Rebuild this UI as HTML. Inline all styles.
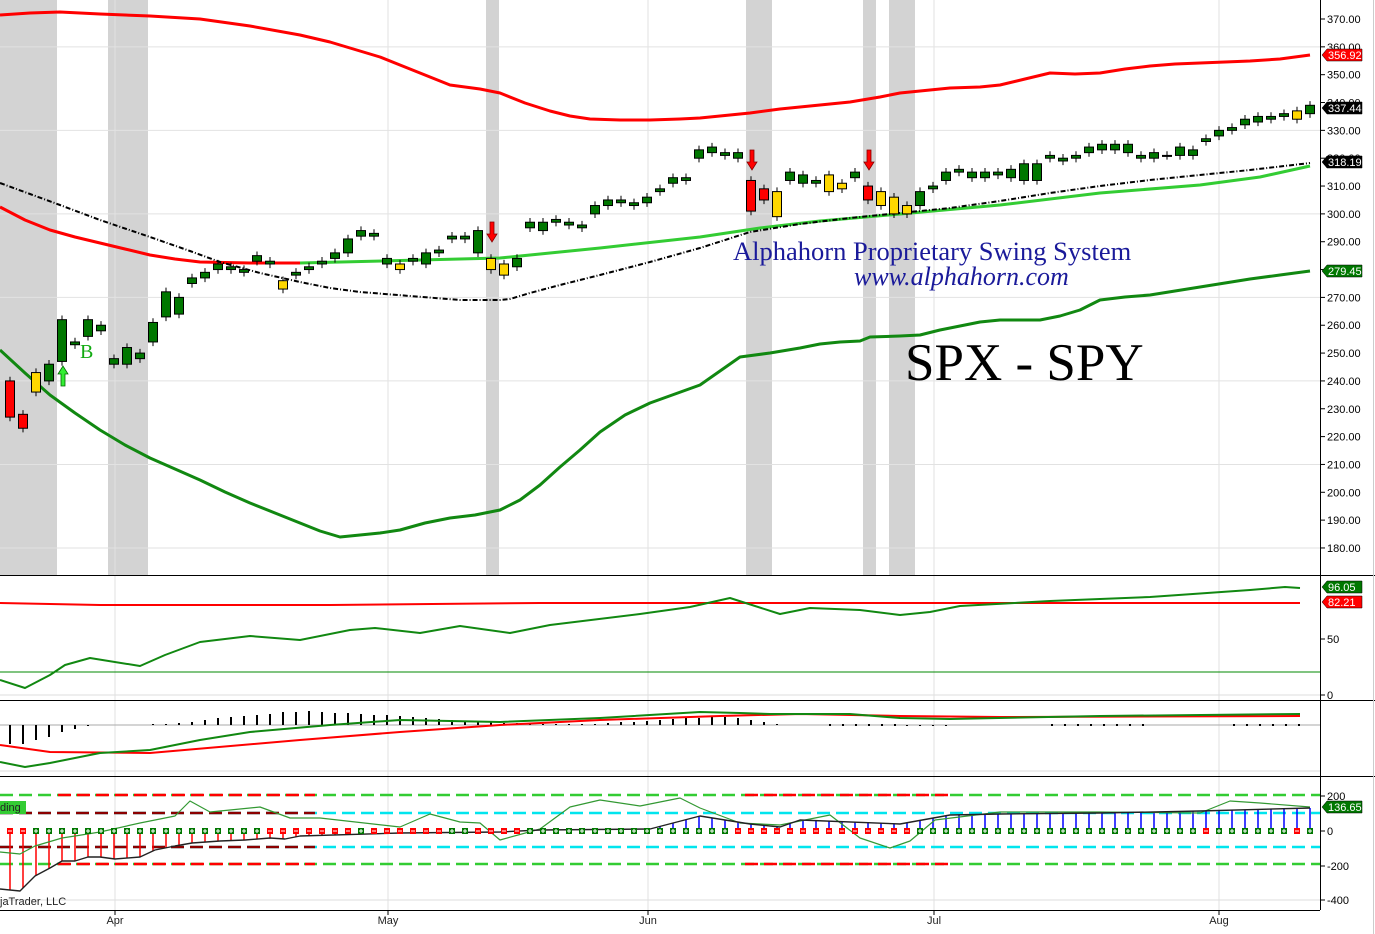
<!DOCTYPE html>
<html><head><meta charset="utf-8"><style>
html,body{margin:0;padding:0;background:#fff;}
svg{display:block;font-family:"Liberation Sans",sans-serif;}
polyline{stroke-linejoin:round;}
</style></head><body>
<svg id="c" width="1375" height="934" viewBox="0 0 1375 934" xmlns="http://www.w3.org/2000/svg"></svg>
<script>
const S=document.getElementById('c');let h='';
const Y=p=>19+(370-p)*2.784;
const X=i=>10+13*i;
function pl(pts,st,w,extra){return `<polyline fill="none" stroke="${st}" stroke-width="${w}" ${extra||''} points="${pts.map(p=>p.join(',')).join(' ')}"/>`;}
function pairs(a){let r=[];for(let i=0;i<a.length;i+=2)r.push([a[i],a[i+1]]);return r;}
[[0,57],[108,148],[486,499],[746,772],[863,876],[889,915]].forEach(b=>h+=`<rect x="${b[0]}" y="0" width="${b[1]-b[0]}" height="575" fill="#d3d3d3"/>`);
[360,330,300,270,240,210,180].forEach(p=>h+=`<line x1="0" x2="1320" y1="${Y(p)}" y2="${Y(p)}" stroke="#e2e2e2"/>`);
[115,388,648,934,1219].forEach(x=>h+=`<line x1="${x}" x2="${x}" y1="0" y2="910" stroke="#e2e2e2"/>`);
h+=pl(pairs([0,15,30,13,60,12,100,14,150,16,200,19,250,26,300,35,330,42,350,48,380,57,400,65,430,77,450,85,480,89,500,93,525,103,550,111,570,116,590,119,620,120,650,120,680,119,700,118,730,115,750,113,780,109,800,107,830,104,850,102,880,97,900,93,930,90,950,88,980,87,1000,85,1025,79,1050,73,1075,74,1100,73,1125,69,1150,66,1175,64,1200,63,1250,61,1280,59,1310,55]),'#ff0000',3);
h+=pl(pairs([0,207,25,220,50,230,75,237,100,243,125,249,150,255,175,259,200,262,250,263,300,263]),'#ff0000',3);
h+=pl(pairs([300,263,420,260,500,258,600,248,700,237,760,228,820,221,900,214,1000,205,1100,193,1200,185,1260,177,1310,166]),'#33cc33',3);
h+=pl(pairs([0,183,30,194,60,205,100,220,150,237,190,251,220,262,260,273,300,282,330,288,360,292,410,296,460,300,500,300,510,299,530,293,560,285,600,275,650,262,700,248,750,232,800,224,850,218,900,213,950,208,1000,201,1050,193,1100,186,1150,180,1200,175,1250,170,1310,163]),'#000',2,'style="stroke-linecap:butt" stroke-dasharray="5,2,1,2"');
h+=pl(pairs([0,350,25,373,50,395,75,413,100,430,125,445,150,458,175,469,200,480,225,492,250,503,275,513,300,523,320,531,340,537,360,535,380,533,400,530,425,523,450,518,475,515,500,510,520,500,540,485,560,467,580,450,600,432,625,415,650,403,675,394,700,385,720,371,740,357,770,353,800,348,820,344,840,342,860,341,870,337,900,336,920,335,940,330,960,326,980,322,1000,320,1040,320,1060,316,1080,310,1100,300,1125,297,1150,295,1175,291,1200,287,1225,283,1250,279,1280,275,1310,271]),'#118811',3);
const C=[[240,227,'r'],[228,223,'r'],[236,243,'y'],[240,246,'g'],[247,262,'g'],[253,254,'g'],[256,262,'g'],[258,260,'g'],[246,248,'g'],[246,252,'g'],[248,250,'g'],[254,261,'g'],[263,272,'g'],[264,270,'g'],[275,277,'g'],[277,279,'g'],[280,282,'g'],[280,281,'g'],[279,280,'g'],[283,285,'g'],[282,283,'g'],[276,273,'y'],[278,279,'g'],[280,281,'g'],[282,283,'g'],[284,286,'g'],[286,291,'g'],[292,294,'g'],[292,293,'g'],[284,282,'g'],[282,280,'y'],[283,284,'g'],[282,286,'g'],[286,287,'g'],[291,292,'g'],[291,292,'g'],[286,294,'g'],[284,280,'y'],[282,278,'y'],[281,284,'g'],[295,297,'g'],[294,297,'g'],[297,298,'g'],[296,297,'g'],[295,296,'g'],[300,303,'g'],[303,305,'g'],[304,305,'g'],[303,304,'g'],[304,306,'g'],[308,309,'g'],[311,313,'g'],[312,313,'g'],[320,323,'g'],[322,324,'g'],[321,322,'g'],[320,322,'g'],[312,301,'r'],[309,305,'r'],[308,299,'y'],[312,315,'g'],[311,314,'g'],[311,312,'g'],[314,308,'y'],[311,309,'y'],[313,315,'g'],[310,305,'r'],[308,303,'y'],[306,300,'y'],[303,300,'y'],[303,308,'g'],[309,310,'g'],[312,315,'g'],[315,316,'g'],[313,315,'g'],[313,315,'g'],[314,315,'g'],[313,316,'g'],[312,318,'g'],[312,318,'g'],[320,321,'g'],[319,320,'g'],[320,321,'g'],[322,324,'g'],[323,325,'g'],[323,325,'g'],[325,322,'g'],[320,321,'g'],[320,322,'g'],[321,321,'g'],[321,324,'g'],[321,323,'g'],[326,327,'g'],[328,330,'g'],[330,331,'g'],[332,334,'g'],[333,335,'g'],[334,335,'g'],[335,336,'g'],[337,334,'y'],[336,339,'g']];
const col={r:'#ff0000',g:'#007700',y:'#ffd700'};
C.forEach((c,i)=>{const x=X(i),t=Math.max(c[0],c[1]),b=Math.min(c[0],c[1]);
h+=`<line x1="${x}" x2="${x}" y1="${Y(t+1.5)}" y2="${Y(b-1.5)}" stroke="#000"/>`;
h+=`<rect x="${x-4.5}" y="${Y(t)}" width="9" height="${Math.max(1,Y(b)-Y(t))}" fill="${col[c[2]]}" stroke="#000" stroke-width="1"/>`;});
function dn(x,y){h+=`<polygon points="${x-2},${y} ${x+2},${y} ${x+2},${y+12} ${x+5},${y+12} ${x},${y+20} ${x-5},${y+12} ${x-2},${y+12}" fill="#ff0000" stroke="#800" stroke-width="0.8"/>`;}
dn(492,222);dn(752,150);dn(869,150);
h+=`<polygon points="61,386 65,386 65,374 68,374 63,366 58,374 61,374" fill="#33ee33" stroke="#060" stroke-width="0.8"/>`;
h+=`<text x="80" y="358" font-family="Liberation Serif,serif" font-size="20" fill="#11aa11">B</text>`;
h+=`<text x="733" y="260" font-family="Liberation Serif,serif" font-size="26.5" fill="#1a1a9a">Alphahorn Proprietary Swing System</text>`;
h+=`<text x="854" y="285" font-family="Liberation Serif,serif" font-style="italic" font-size="26" fill="#1a1a9a">www.alphahorn.com</text>`;
h+=`<text x="905" y="380" font-family="Liberation Serif,serif" font-size="53" fill="#000">SPX - SPY</text>`;
h+=`<line x1="0" x2="1320" y1="695" y2="695" stroke="#ddd"/>`;
h+=`<line x1="0" x2="1320" y1="672" y2="672" stroke="#008800"/>`;
h+=pl(pairs([0,603,100,605,330,605,540,603,1300,603]),'#ff0000',2);
h+=pl(pairs([0,680,25,688,50,675,65,665,90,658,140,666,165,655,200,642,250,636,300,640,350,630,375,628,420,633,460,626,510,633,550,625,640,614,690,607,730,598,780,614,810,608,860,610,900,615,930,612,960,606,1050,601,1150,597,1250,590,1285,587,1300,588]),'#118811',2);
h+=`<line x1="0" x2="1320" y1="725" y2="725" stroke="#aaa"/><line x1="0" x2="1320" y1="771" y2="771" stroke="#ddd"/>`;
const H=[-19,-19,-15,-12,-7,-4,-1,0,0,0,0,1,1,2,3,5,7,8,9,10,11,13,13,14,13,12,12,11,10,10,9,8,7,6,5,4,3,3,2,2,1,1,1,1,1,1,2,3,3,4,5,6,7,7,8,8,7,5,3,1,0,0,0,0,0,0,0,0,0,-1,-1,-1,-1,0,0,0,0,0,0,0,0,0,0,0,0,0,0,0,0,0,0,0,0,0,0,0,0,0,0,0,0];
H.forEach((v,i)=>{if(Math.abs(v)>=1)h+=`<line x1="${X(i)}" x2="${X(i)}" y1="725" y2="${725-v}" stroke="#000" stroke-width="2"/>`;});
[1052,1065,1078,1091,1104,1117,1130,1143,1234,1247,1260,1273,1286,1299,830,843,856,869,882,895].forEach(x=>h+=`<line x1="${x}" x2="${x}" y1="724" y2="726" stroke="#000" stroke-width="2"/>`);
h+=pl(pairs([0,745,50,752,150,753,300,740,400,732,500,725,600,720,720,716,800,714,900,716,1000,717,1300,716]),'#ff0000',2);
h+=pl(pairs([0,762,25,767,50,763,100,753,150,750,200,740,250,732,330,725,400,720,500,722,600,718,700,712,740,713,770,714,850,714,900,718,950,719,1100,716,1300,714]),'#118811',2);
h+=`<line x1="0" x2="1320" y1="900" y2="900" stroke="#ddd"/>`;
function dl(y,c1){h+=`<line x1="0" x2="1320" y1="${y}" y2="${y}" stroke="${c1}" stroke-width="2.5" stroke-dasharray="13,6"/>`;}
dl(795,'#33cc33');dl(864,'#33cc33');
h+=`<line x1="58" x2="315" y1="795" y2="795" stroke="#ff0000" stroke-width="2.5" stroke-dasharray="13,6"/><line x1="58" x2="315" y1="864" y2="864" stroke="#ff0000" stroke-width="2.5" stroke-dasharray="13,6"/>`;
h+=`<line x1="745" x2="952" y1="795" y2="795" stroke="#ff0000" stroke-width="2.5" stroke-dasharray="13,6"/><line x1="745" x2="952" y1="864" y2="864" stroke="#ff0000" stroke-width="2.5" stroke-dasharray="13,6"/>`;
dl(813,'#00e5ee');dl(847,'#00e5ee');
h+=`<line x1="0" x2="315" y1="813" y2="813" stroke="#8b0000" stroke-width="2.5" stroke-dasharray="13,6"/><line x1="0" x2="315" y1="847" y2="847" stroke="#8b0000" stroke-width="2.5" stroke-dasharray="13,6"/>`;
const BL=pairs([0,889,20,891,35,876,50,868,62,861,75,861,88,857,100,857,115,859,140,857,155,850,175,846,192,843,220,841,245,840,270,838,285,839,300,836,400,833,500,832,540,830,650,829,700,816,750,824,780,827,800,820,900,824,950,815,1000,814,1100,813,1200,811,1310,808]);
function interp(pts,x){for(let i=1;i<pts.length;i++)if(x<=pts[i][0]){const a=pts[i-1],b=pts[i];return a[1]+(b[1]-a[1])*(x-a[0])/(b[0]-a[0]);}return pts[pts.length-1][1];}
const red=new Set([0,1,20,21,22,23,24,25,26,28,29,30,31,32,33,36,37,38,39,56,57,58,59,60,61,62,63,64,65,66,67,68,69,92,99]);
for(let i=0;i<=100;i++){const x=X(i),yb=interp(BL,x);
 if(yb>833)h+=`<line x1="${x}" x2="${x}" y1="831" y2="${yb}" stroke="#ff0000" stroke-width="1.5"/>`;
 else if(x>600)h+=`<line x1="${x}" x2="${x}" y1="831" y2="${yb}" stroke="#0000ff" stroke-width="1.5"/>`;}
h+=pl(pairs([0,852,20,854,35,846,62,838,75,836,100,832,140,823,175,816,190,801,210,812,260,807,290,818,320,818,400,827,430,814,460,822,480,823,500,840,540,829,570,807,600,800,640,806,680,798,700,808,740,823,780,825,830,815,860,838,890,848,910,841,935,820,1000,812,1100,812,1200,813,1230,801,1260,803,1310,807]),'#339933',1.2);
h+=pl(BL,'#222',1.4);
for(let i=0;i<=100;i++){const x=X(i),r=red.has(i);h+=`<rect x="${x-3}" y="828" width="6" height="6" fill="${r?'#ff0000':'#007700'}"/><line x1="${x-2}" x2="${x+2}" y1="831" y2="831" stroke="#fff"/>`+(r?'':`<line x1="${x}" x2="${x}" y1="829" y2="833" stroke="#fff"/>`);}
h+=`<rect x="0" y="801" width="26" height="13" fill="#33cc33"/><text x="0" y="811" font-size="11" fill="#222">ding</text>`;
h+=`<text x="0" y="905" font-size="11" fill="#222">jaTrader, LLC</text>`;
h+=`<line x1="0" x2="1375" y1="575.5" y2="575.5" stroke="#000"/><line x1="0" x2="1375" y1="700.5" y2="700.5" stroke="#000"/><line x1="0" x2="1375" y1="776.5" y2="776.5" stroke="#000"/>`;
h+=`<line x1="0" x2="1320" y1="910.5" y2="910.5" stroke="#000"/><line x1="1320.5" x2="1320.5" y1="0" y2="910" stroke="#000"/>`;
h+=`<line x1="1373.5" x2="1373.5" y1="0" y2="934" stroke="#ccc"/>`;
for(let p=370;p>=180;p-=10){const y=Y(p);h+=`<line x1="1320" x2="1325" y1="${y}" y2="${y}" stroke="#000"/><text x="1327" y="${y+4}" font-size="11" fill="#000">${p}.00</text>`;}
[[639,'50'],[695,'0'],[796,'200'],[831,'0'],[866,'-200'],[900,'-400']].forEach(a=>h+=`<line x1="1320" x2="1325" y1="${a[0]}" y2="${a[0]}" stroke="#000"/><text x="1327" y="${a[0]+4}" font-size="11" fill="#000">${a[1]}</text>`);
[[115,'Apr'],[388,'May'],[648,'Jun'],[934,'Jul'],[1219,'Aug']].forEach(a=>h+=`<line x1="${a[0]}" x2="${a[0]}" y1="910" y2="915" stroke="#000"/><text x="${a[0]}" y="924" font-size="11" text-anchor="middle" fill="#222">${a[1]}</text>`);
function tag(y,t,bg){h+=`<polygon points="1322,${y} 1327,${y-6} 1362,${y-6} 1362,${y+6} 1327,${y+6}" fill="${bg}" stroke="#000" stroke-width="0.5"/><text x="1328" y="${y+4}" font-size="11" fill="#fff">${t}</text>`;}
tag(55,'356.92','#ff0000');tag(108,'337.44','#000');tag(162,'318.19','#000');tag(271,'279.45','#007700');
tag(587,'96.05','#007700');tag(602,'82.21','#ff0000');tag(807,'136.65','#007700');
S.innerHTML=h;
</script>
</body></html>
